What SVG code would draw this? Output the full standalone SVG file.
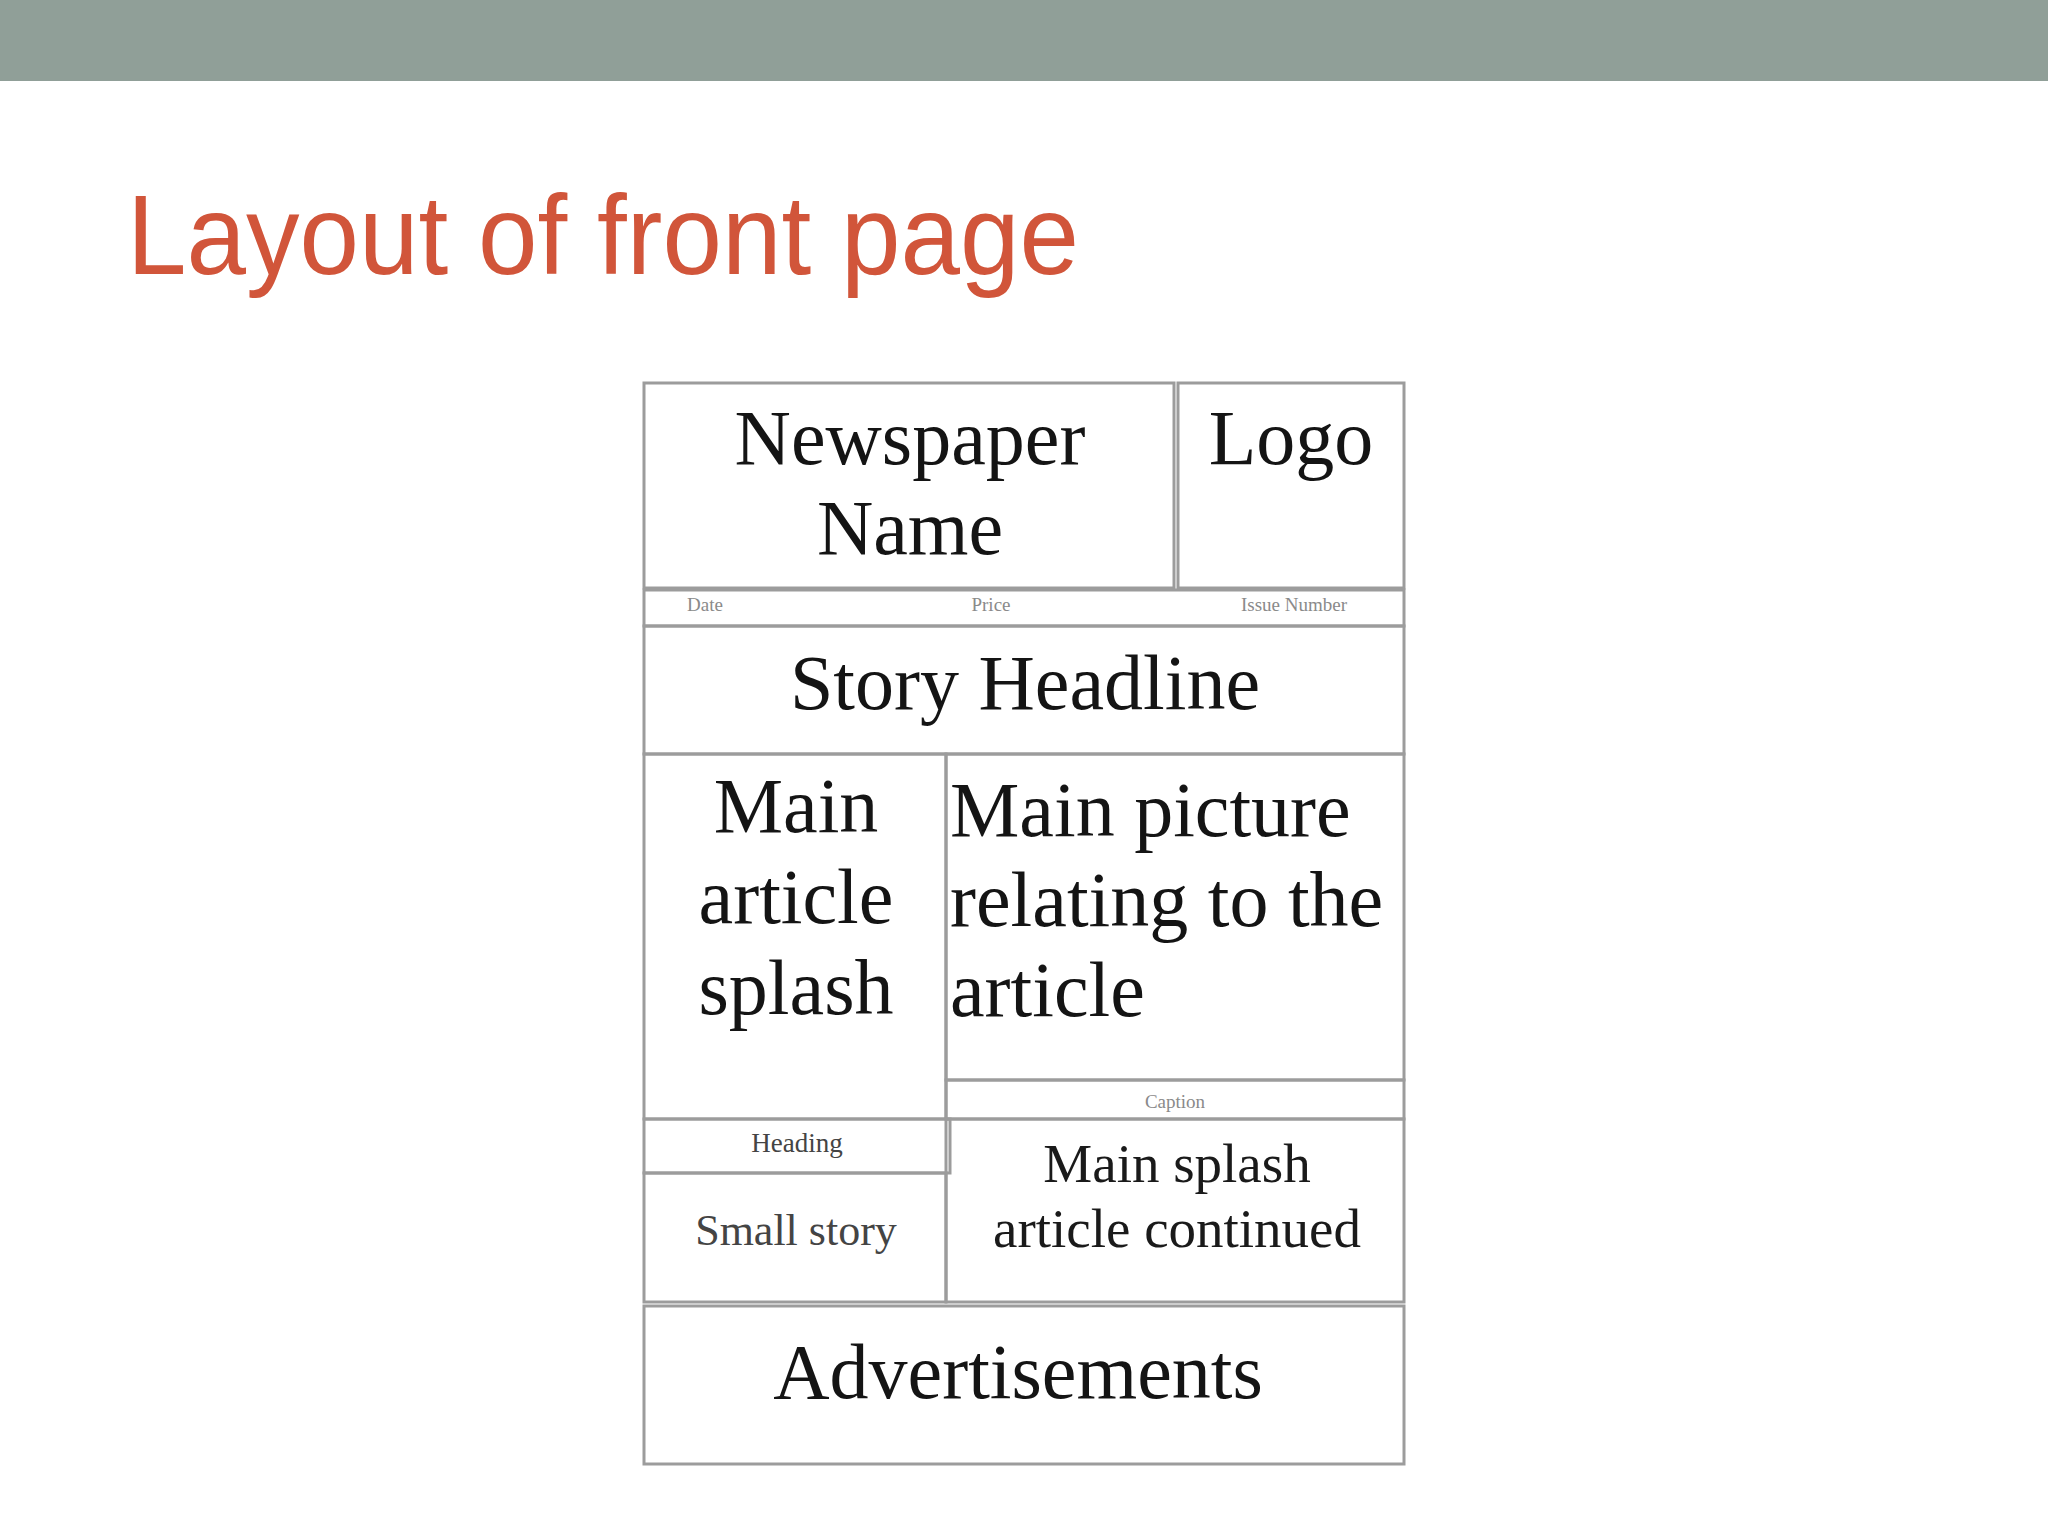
<svg xmlns="http://www.w3.org/2000/svg" width="2048" height="1536" viewBox="0 0 2048 1536">
<style>
.box{fill:none;stroke:#9c9c9c;stroke-width:3}
.big{font-family:"Liberation Serif","Times New Roman",serif;font-size:78px;fill:#141414}
.mid{font-family:"Liberation Serif","Times New Roman",serif;font-size:55px;fill:#1a1a1a}
.sm{font-family:"Liberation Serif","Times New Roman",serif;fill:#444}
.tiny{font-family:"Liberation Serif","Times New Roman",serif;font-size:19px;fill:#8a8a8a}
.c{text-anchor:middle}
</style>
<rect x="0" y="0" width="2048" height="1536" fill="#ffffff"/>
<rect x="0" y="0" width="2048" height="81" fill="#909f98"/>
<text x="127" y="274" font-family="Liberation Sans, Arial, sans-serif" font-size="114" fill="#d1553a" textLength="952" lengthAdjust="spacingAndGlyphs">Layout of front page</text>

<g id="newspaper-name">
<rect class="box" x="644" y="383" width="530" height="205"/>
<text class="big c" x="910" y="464">Newspaper</text>
<text class="big c" x="910" y="554">Name</text>
</g>
<g id="logo">
<rect class="box" x="1178" y="383" width="226" height="205"/>
<text class="big c" x="1291" y="464">Logo</text>
</g>
<g id="info-strip">
<rect class="box" x="644" y="590" width="760" height="36"/>
<text class="tiny c" x="705" y="611">Date</text>
<text class="tiny c" x="991" y="611">Price</text>
<text class="tiny c" x="1294" y="611">Issue Number</text>
</g>
<g id="story-headline">
<rect class="box" x="644" y="626" width="760" height="128"/>
<text class="big c" x="1025" y="709">Story Headline</text>
</g>
<g id="main-article">
<rect class="box" x="644" y="754" width="302" height="365"/>
<text class="big c" x="796" y="832">Main</text>
<text class="big c" x="796" y="923">article</text>
<text class="big c" x="796" y="1014">splash</text>
</g>
<g id="main-picture">
<rect class="box" x="946" y="754" width="458" height="326"/>
<text class="big" x="950" y="836">Main picture</text>
<text class="big" x="950" y="926">relating to the</text>
<text class="big" x="950" y="1016">article</text>
</g>
<g id="caption">
<rect class="box" x="946" y="1080" width="458" height="39"/>
<text class="tiny c" x="1175" y="1108">Caption</text>
</g>
<g id="heading">
<rect class="box" x="644" y="1119" width="306" height="54"/>
<text class="sm c" x="797" y="1152" font-size="27">Heading</text>
</g>
<g id="small-story">
<rect class="box" x="644" y="1173" width="302" height="129"/>
<text class="sm c" x="796" y="1245" font-size="44" fill="#2a2a2a">Small story</text>
</g>
<g id="splash-continued">
<rect class="box" x="946" y="1119" width="458" height="183"/>
<text class="mid c" x="1177" y="1182">Main splash</text>
<text class="mid c" x="1177" y="1247">article continued</text>
</g>
<g id="advertisements">
<rect class="box" x="644" y="1306" width="760" height="158"/>
<text class="big c" x="1018" y="1398">Advertisements</text>
</g>
<g id="connectors"/>
</svg>
